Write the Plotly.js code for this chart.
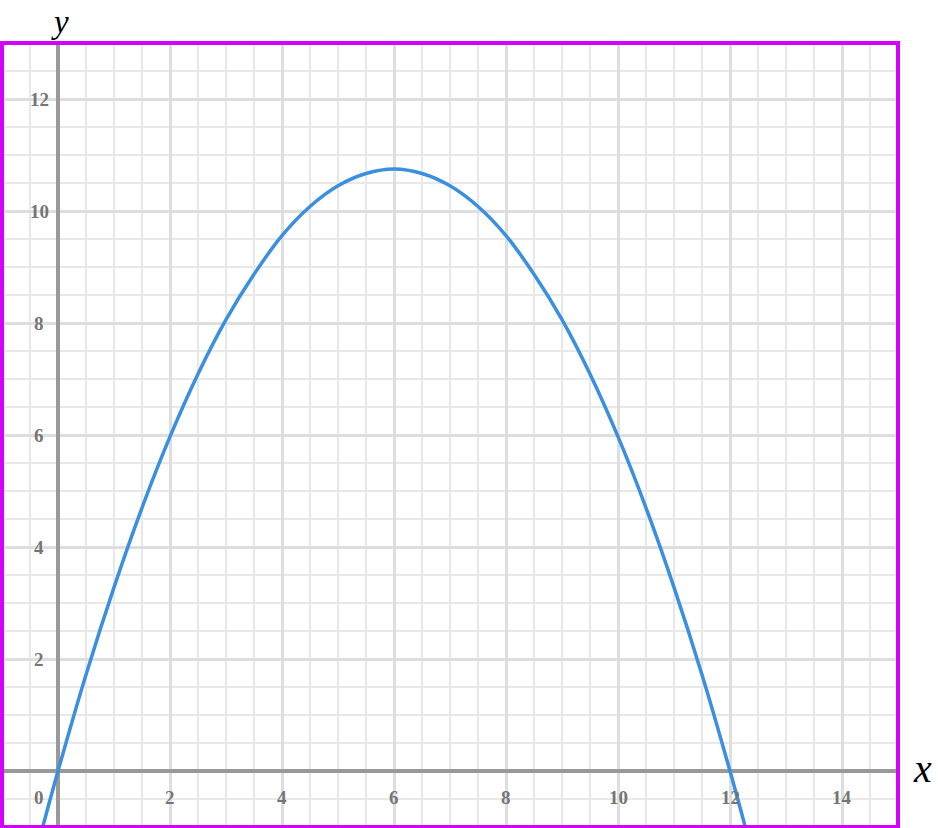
<!DOCTYPE html>
<html>
<head>
<meta charset="utf-8">
<script src="https://cdn.plot.ly/plotly-3.0.1.min.js"></script>
<style>html,body{margin:0;padding:0;background:#fff;}#chart{width:938px;height:828px;}</style>
</head>
<body>
<div id="chart"></div>
<script>
// Curve values
var curveX = [-0.3, 0, 0.5, 1, 1.5, 2, 2.5, 3, 3.5, 4, 4.5, 5, 5.5, 6, 6.5, 7, 7.5, 8, 8.5, 9, 9.5, 10, 10.5, 11, 11.5, 12, 12.3];
var curveY = [-1.1, 0, 1.72, 3.28, 4.7, 5.97, 7.09, 8.06, 8.87, 9.56, 10.08, 10.45, 10.67, 10.75, 10.67, 10.45, 10.08, 9.56, 8.87, 8.06, 7.09, 5.97, 4.7, 3.28, 1.72, 0, -1.1];

// Tick labels
var xTickVals = [2, 4, 6, 8, 10, 12, 14];
var xTickText = ['2', '4', '6', '8', '10', '12', '14'];
var yTickVals = [2, 4, 6, 8, 10, 12];
var yTickText = ['2', '4', '6', '8', '10', '12'];
var originLabel = '0';
var xTitle = 'x';
var yTitle = 'y';

var tickFont = {family: 'Liberation Serif, Times New Roman, serif', size: 19, color: '#757575'};
var titleFont = {family: 'Liberation Serif, Times New Roman, serif', size: 40, color: '#000'};

var annotations = [];
for (var i = 0; i < xTickVals.length; i++) {
  annotations.push({x: xTickVals[i], y: 0, xref: 'x', yref: 'y', text: '<b>' + xTickText[i] + '</b>',
    showarrow: false, xanchor: 'center', yanchor: 'middle', yshift: -26, font: tickFont});
}
for (var j = 0; j < yTickVals.length; j++) {
  annotations.push({x: 0, y: yTickVals[j], xref: 'x', yref: 'y', text: '<b>' + yTickText[j] + '</b>',
    showarrow: false, xanchor: 'center', yanchor: 'middle', xshift: -19, font: tickFont});
}
annotations.push({x: 0, y: 0, xref: 'x', yref: 'y', text: '<b>' + originLabel + '</b>',
  showarrow: false, xanchor: 'center', yanchor: 'middle', xshift: -19, yshift: -26, font: tickFont});
annotations.push({x: 0, y: 1, xref: 'x', yref: 'paper', text: '<i>' + yTitle + '</i>', showarrow: false,
  xanchor: 'center', yanchor: 'bottom', yshift: 1, xshift: 2,
  font: {family: 'Liberation Serif, Times New Roman, serif', size: 33, color: '#000'}});
annotations.push({x: 1, y: 0, xref: 'paper', yref: 'y', text: '<i>' + xTitle + '</i>', showarrow: false,
  xanchor: 'center', yanchor: 'middle', xshift: 24, yshift: 3, font: titleFont});

var trace = {
  x: curveX, y: curveY, type: 'scatter', mode: 'lines',
  line: {color: 'rgb(58,143,222)', width: 3.5, shape: 'spline', smoothing: 1.0},
  hoverinfo: 'skip'
};

var axisCommon = {
  showticklabels: false, ticks: '',
  dtick: 2, tick0: 0,
  showgrid: true, gridcolor: '#dedede', gridwidth: 3,
  minor: {dtick: 0.5, tick0: 0, showgrid: true, gridcolor: '#e8e8e8', gridwidth: 2},
  zeroline: true, zerolinecolor: '#999999', zerolinewidth: 4,
  showline: false, fixedrange: true
};

var layout = {
  width: 938, height: 828,
  margin: {l: 2, r: 40, t: 43, b: 1, pad: 0},
  paper_bgcolor: '#ffffff', plot_bgcolor: '#ffffff',
  showlegend: false,
  xaxis: Object.assign({}, axisCommon, {range: [-1, 15]}),
  yaxis: Object.assign({}, axisCommon, {range: [-1, 13]}),
  annotations: annotations,
  shapes: [{type: 'rect', xref: 'paper', yref: 'paper', x0: 0, x1: 1, y0: 0, y1: 1,
    line: {color: '#d500f9', width: 4}, layer: 'above'}]
};

Plotly.newPlot('chart', [trace], layout, {displayModeBar: false, staticPlot: true});
</script>
</body>
</html>
